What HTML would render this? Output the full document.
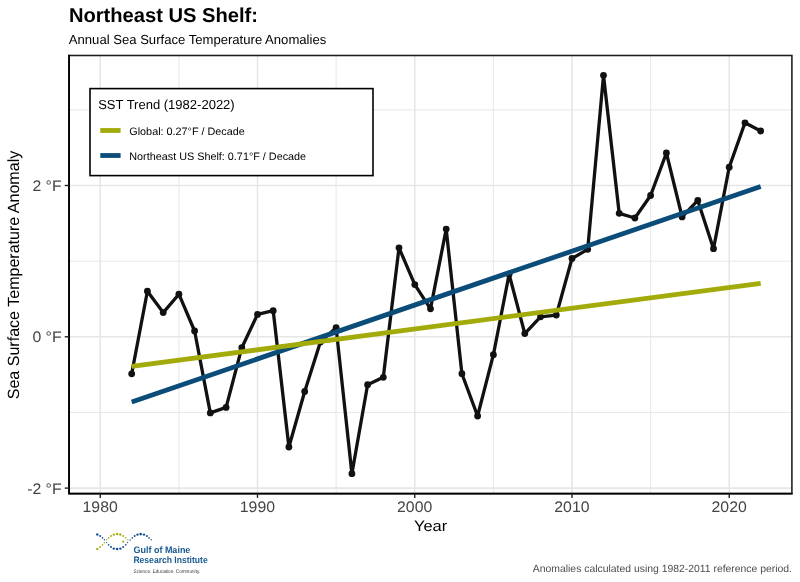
<!DOCTYPE html>
<html><head><meta charset="utf-8"><title>Northeast US Shelf SST</title>
<style>
html,body{margin:0;padding:0;background:#fff;}
body{width:800px;height:582px;overflow:hidden;font-family:"Liberation Sans",sans-serif;}
svg{display:block;will-change:transform;text-rendering:geometricPrecision;font-family:"Liberation Sans",sans-serif;}
</style></head><body>
<svg width="800" height="582" viewBox="0 0 800 582">
<rect width="800" height="582" fill="#fff"/>
<text x="68.9" y="21.7" font-size="20.15" font-weight="bold" fill="#000">Northeast US Shelf:</text>
<text x="68.8" y="43.8" font-size="13.1" fill="#000">Annual Sea Surface Temperature Anomalies</text>
<g><line x1="178.88" y1="55.5" x2="178.88" y2="493.6" stroke="#e6e6e6" stroke-width="0.95"/><line x1="336.12" y1="55.5" x2="336.12" y2="493.6" stroke="#e6e6e6" stroke-width="0.95"/><line x1="493.38" y1="55.5" x2="493.38" y2="493.6" stroke="#e6e6e6" stroke-width="0.95"/><line x1="650.62" y1="55.5" x2="650.62" y2="493.6" stroke="#e6e6e6" stroke-width="0.95"/><line x1="69.05" y1="109.85" x2="791.9" y2="109.85" stroke="#e6e6e6" stroke-width="0.95"/><line x1="69.05" y1="261.15" x2="791.9" y2="261.15" stroke="#e6e6e6" stroke-width="0.95"/><line x1="69.05" y1="412.45" x2="791.9" y2="412.45" stroke="#e6e6e6" stroke-width="0.95"/><line x1="100.25" y1="55.5" x2="100.25" y2="493.6" stroke="#e6e6e6" stroke-width="1.6"/><line x1="257.50" y1="55.5" x2="257.50" y2="493.6" stroke="#e6e6e6" stroke-width="1.6"/><line x1="414.75" y1="55.5" x2="414.75" y2="493.6" stroke="#e6e6e6" stroke-width="1.6"/><line x1="572.00" y1="55.5" x2="572.00" y2="493.6" stroke="#e6e6e6" stroke-width="1.6"/><line x1="729.25" y1="55.5" x2="729.25" y2="493.6" stroke="#e6e6e6" stroke-width="1.6"/><line x1="69.05" y1="185.50" x2="791.9" y2="185.50" stroke="#e6e6e6" stroke-width="1.6"/><line x1="69.05" y1="336.80" x2="791.9" y2="336.80" stroke="#e6e6e6" stroke-width="1.6"/><line x1="69.05" y1="488.10" x2="791.9" y2="488.10" stroke="#e6e6e6" stroke-width="1.6"/></g>
<g fill="none" stroke="#111" stroke-width="3.3" stroke-linejoin="round" stroke-linecap="butt"><polyline points="131.7,373.8 147.4,291.2 163.2,312.6 178.9,294.2 194.6,331.0 210.3,412.9 226.1,407.4 241.8,347.7 257.5,314.4 273.2,310.7 288.9,447.0 304.7,391.5 320.4,341.9 336.1,327.6 351.9,473.7 367.6,384.7 383.3,377.3 399.0,247.8 414.8,284.6 430.5,308.8 446.2,229.1 461.9,373.7 477.6,416.0 493.4,354.7 509.1,274.2 524.8,333.6 540.5,316.8 556.3,315.1 572.0,258.5 587.7,249.3 603.5,75.3 619.2,213.3 634.9,218.0 650.6,195.5 666.4,153.0 682.1,216.9 697.8,200.4 713.5,248.7 729.2,167.2 745.0,122.8 760.7,131.0"/></g>
<g fill="#111"><circle cx="131.7" cy="373.8" r="3.4"/><circle cx="147.4" cy="291.2" r="3.4"/><circle cx="163.2" cy="312.6" r="3.4"/><circle cx="178.9" cy="294.2" r="3.4"/><circle cx="194.6" cy="331.0" r="3.4"/><circle cx="210.3" cy="412.9" r="3.4"/><circle cx="226.1" cy="407.4" r="3.4"/><circle cx="241.8" cy="347.7" r="3.4"/><circle cx="257.5" cy="314.4" r="3.4"/><circle cx="273.2" cy="310.7" r="3.4"/><circle cx="288.9" cy="447.0" r="3.4"/><circle cx="304.7" cy="391.5" r="3.4"/><circle cx="320.4" cy="341.9" r="3.4"/><circle cx="336.1" cy="327.6" r="3.4"/><circle cx="351.9" cy="473.7" r="3.4"/><circle cx="367.6" cy="384.7" r="3.4"/><circle cx="383.3" cy="377.3" r="3.4"/><circle cx="399.0" cy="247.8" r="3.4"/><circle cx="414.8" cy="284.6" r="3.4"/><circle cx="430.5" cy="308.8" r="3.4"/><circle cx="446.2" cy="229.1" r="3.4"/><circle cx="461.9" cy="373.7" r="3.4"/><circle cx="477.6" cy="416.0" r="3.4"/><circle cx="493.4" cy="354.7" r="3.4"/><circle cx="509.1" cy="274.2" r="3.4"/><circle cx="524.8" cy="333.6" r="3.4"/><circle cx="540.5" cy="316.8" r="3.4"/><circle cx="556.3" cy="315.1" r="3.4"/><circle cx="572.0" cy="258.5" r="3.4"/><circle cx="587.7" cy="249.3" r="3.4"/><circle cx="603.5" cy="75.3" r="3.4"/><circle cx="619.2" cy="213.3" r="3.4"/><circle cx="634.9" cy="218.0" r="3.4"/><circle cx="650.6" cy="195.5" r="3.4"/><circle cx="666.4" cy="153.0" r="3.4"/><circle cx="682.1" cy="216.9" r="3.4"/><circle cx="697.8" cy="200.4" r="3.4"/><circle cx="713.5" cy="248.7" r="3.4"/><circle cx="729.2" cy="167.2" r="3.4"/><circle cx="745.0" cy="122.8" r="3.4"/><circle cx="760.7" cy="131.0" r="3.4"/></g>
<line x1="131.7" y1="402.0" x2="760.7" y2="186.5" stroke="#0b4c79" stroke-width="4.8"/>
<line x1="131.7" y1="366.4" x2="760.7" y2="283.3" stroke="#a2ab0a" stroke-width="4.8"/>
<rect x="69.05" y="55.5" width="722.85" height="438.1" fill="none" stroke="#1c1c1c" stroke-width="1.55"/>
<path d="M69.05,54.8 V493.6 H792.6" fill="none" stroke="#000" stroke-width="1.75" stroke-linejoin="miter"/>
<line x1="100.25" y1="493.6" x2="100.25" y2="497.90000000000003" stroke="#222" stroke-width="1.4"/><line x1="257.50" y1="493.6" x2="257.50" y2="497.90000000000003" stroke="#222" stroke-width="1.4"/><line x1="414.75" y1="493.6" x2="414.75" y2="497.90000000000003" stroke="#222" stroke-width="1.4"/><line x1="572.00" y1="493.6" x2="572.00" y2="497.90000000000003" stroke="#222" stroke-width="1.4"/><line x1="729.25" y1="493.6" x2="729.25" y2="497.90000000000003" stroke="#222" stroke-width="1.4"/><line x1="64.75" y1="185.50" x2="69.05" y2="185.50" stroke="#222" stroke-width="1.4"/><line x1="64.75" y1="336.80" x2="69.05" y2="336.80" stroke="#222" stroke-width="1.4"/><line x1="64.75" y1="488.10" x2="69.05" y2="488.10" stroke="#222" stroke-width="1.4"/><text transform="translate(100.15,511.9) scale(1.034,1)" text-anchor="middle" font-size="15.3" fill="#454545">1980</text><text transform="translate(257.40,511.9) scale(1.034,1)" text-anchor="middle" font-size="15.3" fill="#454545">1990</text><text transform="translate(414.65,511.9) scale(1.034,1)" text-anchor="middle" font-size="15.3" fill="#454545">2000</text><text transform="translate(571.90,511.9) scale(1.034,1)" text-anchor="middle" font-size="15.3" fill="#454545">2010</text><text transform="translate(729.15,511.9) scale(1.034,1)" text-anchor="middle" font-size="15.3" fill="#454545">2020</text><text transform="translate(61.6,191.10) scale(1.034,1)" text-anchor="end" font-size="15.3" fill="#454545">2 °F</text><text transform="translate(61.6,342.40) scale(1.034,1)" text-anchor="end" font-size="15.3" fill="#454545">0 °F</text><text transform="translate(61.6,493.70) scale(1.034,1)" text-anchor="end" font-size="15.3" fill="#454545">-2 °F</text>
<rect x="90" y="88.6" width="283" height="87" fill="#fff" stroke="#000" stroke-width="1.6"/>
<text x="98.2" y="108.7" font-size="13.03" fill="#000">SST Trend (1982-2022)</text>
<line x1="100.3" y1="130.5" x2="120.6" y2="130.5" stroke="#a2ab0a" stroke-width="4.8"/>
<line x1="100.3" y1="155.5" x2="120.6" y2="155.5" stroke="#0b4c79" stroke-width="4.8"/>
<text x="129.3" y="134.5" font-size="10.82" fill="#000">Global: 0.27°F / Decade</text>
<text x="129.3" y="159.9" font-size="10.82" fill="#000">Northeast US Shelf: 0.71°F / Decade</text>
<text transform="translate(430.6,531) scale(1.09,1)" text-anchor="middle" font-size="15.1" fill="#000">Year</text>
<text transform="translate(19.2,275.0) rotate(-90) scale(0.991,1)" text-anchor="middle" font-size="16.2" fill="#000">Sea Surface Temperature Anomaly</text>
<text x="792" y="571.5" text-anchor="end" font-size="10.4" fill="#4d4d4d">Anomalies calculated using 1982-2011 reference period.</text>
<g><circle cx="97.3" cy="534.5" r="1.25" fill="#1b5191"/><circle cx="100.1" cy="536.1" r="1.0" fill="#1b5191"/><circle cx="102.5" cy="537.8" r="0.85" fill="#1b5191"/><circle cx="104.4" cy="539.8" r="0.7" fill="#1b5191"/><circle cx="106.6" cy="542.6" r="0.7" fill="#1b5191"/><circle cx="108.6" cy="544.8" r="0.85" fill="#1b5191"/><circle cx="111.0" cy="547.0" r="1.0" fill="#1b5191"/><circle cx="113.8" cy="548.6" r="1.2" fill="#1b5191"/><circle cx="117.1" cy="549.0" r="1.3" fill="#1b5191"/><circle cx="120.4" cy="548.6" r="1.2" fill="#1b5191"/><circle cx="123.2" cy="547.0" r="1.0" fill="#1b5191"/><circle cx="125.7" cy="544.8" r="0.85" fill="#1b5191"/><circle cx="127.6" cy="542.6" r="0.7" fill="#1b5191"/><circle cx="130.2" cy="540.0" r="0.7" fill="#1b5191"/><circle cx="132.3" cy="537.8" r="0.85" fill="#1b5191"/><circle cx="134.6" cy="536.1" r="1.0" fill="#1b5191"/><circle cx="137.5" cy="534.6" r="1.2" fill="#1b5191"/><circle cx="140.7" cy="534.1" r="1.35" fill="#1b5191"/><circle cx="144.0" cy="534.6" r="1.2" fill="#1b5191"/><circle cx="146.9" cy="536.1" r="1.0" fill="#1b5191"/><circle cx="149.1" cy="537.8" r="0.85" fill="#1b5191"/><circle cx="151.2" cy="539.8" r="0.7" fill="#1b5191"/><circle cx="97.3" cy="548.9" r="1.25" fill="#a9b41e"/><circle cx="100.1" cy="547.0" r="1.0" fill="#a9b41e"/><circle cx="102.5" cy="544.8" r="0.85" fill="#a9b41e"/><circle cx="104.4" cy="542.8" r="0.7" fill="#a9b41e"/><circle cx="106.6" cy="539.8" r="0.7" fill="#a9b41e"/><circle cx="108.6" cy="537.8" r="0.85" fill="#a9b41e"/><circle cx="111.0" cy="535.9" r="1.0" fill="#a9b41e"/><circle cx="113.8" cy="534.6" r="1.2" fill="#a9b41e"/><circle cx="117.1" cy="534.0" r="1.35" fill="#a9b41e"/><circle cx="120.4" cy="534.5" r="1.2" fill="#a9b41e"/><circle cx="123.2" cy="535.9" r="1.0" fill="#a9b41e"/><circle cx="125.7" cy="537.8" r="0.85" fill="#a9b41e"/><circle cx="127.8" cy="540.0" r="0.7" fill="#a9b41e"/><circle cx="123.2" cy="541.7" r="1.1" fill="#a9b41e"/><text x="133.4" y="552.8" font-size="9.3" font-weight="bold" fill="#195a92" textLength="57" lengthAdjust="spacingAndGlyphs">Gulf of Maine</text><text x="133.4" y="563.1" font-size="9.3" font-weight="bold" fill="#195a92" textLength="74.3" lengthAdjust="spacingAndGlyphs">Research Institute</text><text x="133.6" y="572.8" font-size="5.2" fill="#3a3a3a" textLength="66.6" lengthAdjust="spacingAndGlyphs">Science. Education. Community.</text></g>
</svg>
</body></html>
